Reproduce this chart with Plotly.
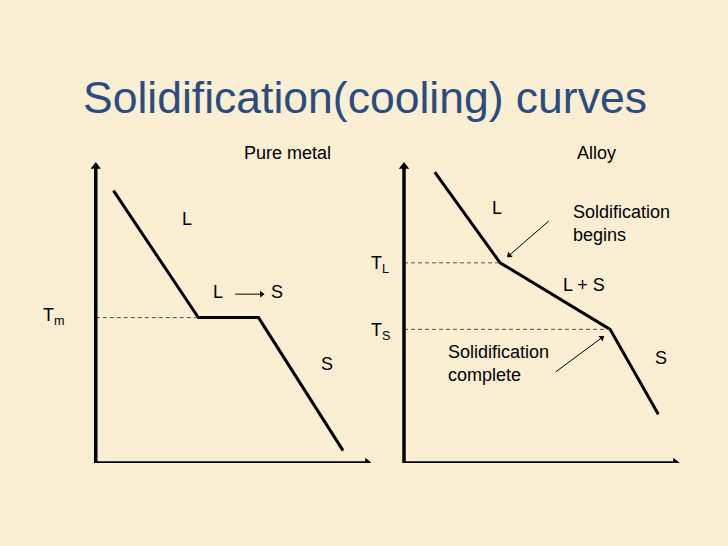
import plotly.graph_objects as go

W, H = 728, 546
BG = '#FAEED3'
TITLE_BLUE = '#2A4C7E'
FONT = 'Liberation Sans, Arial, sans-serif'

# pure metal cooling curve (time, temperature), arbitrary units 0-100
pure_time = [6.4, 37.0, 58.7, 89.2]
pure_temp = [90.5, 48.3, 48.3, 4.1]
pure_tm = 48.3

# alloy cooling curve
alloy_time = [11.1, 34.7, 74.4, 91.8]
alloy_temp = [96.6, 66.5, 44.4, 16.2]
alloy_tl = 66.5
alloy_ts = 44.4

# axis extents (time axis end, temperature axis end)
axis_x_end = 98
axis_y_end = 98.5

# text labels: (text, x, y)
pure_labels = [('L', 32.9, 81.2), ('L', 44.2, 56.9), ('S', 65.5, 56.9), ('S', 83.4, 32.9),
               ('T<sub>m</sub>', -15.0, 48.8)]
alloy_labels = [('L', 33.7, 84.6), ('L + S', 64.8, 59.1), ('S', 92.7, 34.8),
                ('T<sub>L</sub>', -8.6, 66.1), ('T<sub>S</sub>', -8.6, 43.6)]

# thin pointer arrows: (x_tail, y_tail, x_head, y_head)
pure_arrows = [(50.3, 56.1, 59.8, 56.1)]
alloy_arrows = [(52.3, 80.4, 38.0, 69.0), (54.8, 30.3, 71.4, 41.6)]

fig = go.Figure()


def arrow_line(xs, ys, xr, yr, width, head):
    fig.add_trace(go.Scatter(
        x=xs, y=ys, mode='lines+markers', xaxis=xr, yaxis=yr, showlegend=False,
        hoverinfo='skip', line=dict(color='black', width=width),
        marker=dict(symbol='triangle-up', size=[0, head], angleref='previous',
                    color='black', opacity=1, line=dict(width=0))))


# curves
fig.add_trace(go.Scatter(x=pure_time, y=pure_temp, mode='lines', xaxis='x', yaxis='y',
                         line=dict(color='black', width=3), showlegend=False))
fig.add_trace(go.Scatter(x=alloy_time, y=alloy_temp, mode='lines', xaxis='x2', yaxis='y2',
                         line=dict(color='black', width=3), showlegend=False))

# dashed reference lines
dash = dict(color='#555555', width=1, dash='4px,3px')
fig.add_trace(go.Scatter(x=[0, pure_time[1]], y=[pure_tm, pure_tm], mode='lines',
                         xaxis='x', yaxis='y', line=dash, showlegend=False))
fig.add_trace(go.Scatter(x=[0, alloy_time[1]], y=[alloy_tl, alloy_tl], mode='lines',
                         xaxis='x2', yaxis='y2', line=dash, showlegend=False))
fig.add_trace(go.Scatter(x=[0, alloy_time[2]], y=[alloy_ts, alloy_ts], mode='lines',
                         xaxis='x2', yaxis='y2', line=dash, showlegend=False))

# axes with arrowheads
for xr, yr in (('x', 'y'), ('x2', 'y2')):
    arrow_line([0, axis_x_end], [0, 0], xr, yr, 3.5, 9)
    arrow_line([0, 0], [0, axis_y_end], xr, yr, 3.5, 9)

# pointer arrows
for xr, yr, arrows in (('x', 'y', pure_arrows), ('x2', 'y2', alloy_arrows)):
    for x0, y0, x1, y1 in arrows:
        arrow_line([x0, x1], [y0, y1], xr, yr, 1, 6)

ann = []
lab_font = dict(family=FONT, size=18, color='black')
for xr, yr, labels in (('x', 'y', pure_labels), ('x2', 'y2', alloy_labels)):
    for t, lx, ly in labels:
        ann.append(dict(x=lx, y=ly, xref=xr, yref=yr, text=t, showarrow=False,
                        xanchor='center', yanchor='middle', font=lab_font))

ann.append(dict(x=60.4, y=79.7, xref='x2', yref='y2', text='Soldification<br>begins',
                showarrow=False, xanchor='left', yanchor='middle', align='left', font=lab_font))
ann.append(dict(x=15.1, y=33.1, xref='x2', yref='y2', text='Solidification<br>complete',
                showarrow=False, xanchor='left', yanchor='middle', align='left', font=lab_font))

# panel headings and slide title
ann.append(dict(x=287 / W, y=1 - 153 / H, xref='paper', yref='paper', text='Pure metal',
                showarrow=False, xanchor='center', yanchor='middle', font=lab_font))
ann.append(dict(x=596 / W, y=1 - 153 / H, xref='paper', yref='paper', text='Alloy',
                showarrow=False, xanchor='center', yanchor='middle', font=lab_font))
ann.append(dict(x=81 / W, y=1 - 97 / H, xref='paper', yref='paper', xanchor='left',
                yanchor='middle', text='Solidification(cooling) curves', showarrow=False,
                font=dict(family=FONT, size=44.5, color=TITLE_BLUE)))

# 2.77 px per unit horizontally; negative room left of each axis for T labels
fig.update_layout(
    width=W, height=H,
    margin=dict(l=0, r=0, t=0, b=0),
    paper_bgcolor=BG, plot_bgcolor=BG,
    xaxis=dict(visible=False, fixedrange=True, range=[-20, 100],
               domain=[(95.7 - 20 * 2.77) / W, 373 / W]),
    yaxis=dict(visible=False, fixedrange=True, range=[0, 100],
               domain=[1 - 463 / H, 1 - 162 / H]),
    xaxis2=dict(visible=False, fixedrange=True, range=[-12, 100], anchor='y2',
                domain=[(404 - 12 * 2.77) / W, 681 / W]),
    yaxis2=dict(visible=False, fixedrange=True, range=[0, 100], anchor='x2',
                domain=[1 - 463 / H, 1 - 162 / H]),
    annotations=ann,
    showlegend=False,
    hovermode=False,
)

fig.write_html("out.html", config={'displayModeBar': False},
               post_script="document.body.style.margin='0';")
